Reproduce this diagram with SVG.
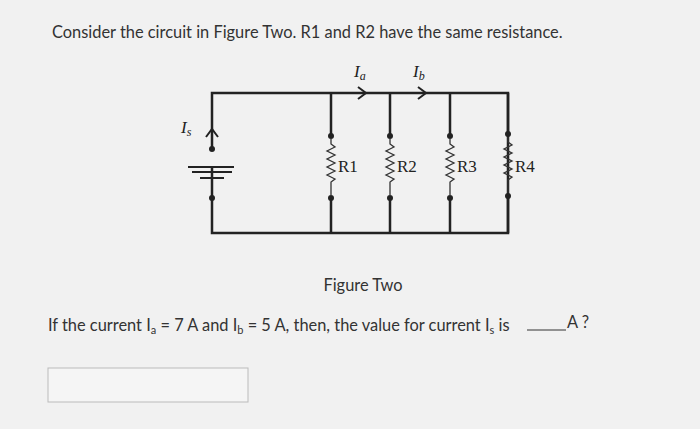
<svg xmlns="http://www.w3.org/2000/svg" width="700" height="429" viewBox="0 0 700 429">
<style>
.t{font-family:"Lato","Liberation Sans",sans-serif;font-size:16.4px;fill:#333}
.w{stroke:#222;stroke-width:2.5;fill:none}
.z{stroke:#333;stroke-width:1.3;fill:none}
.s{font-family:"Liberation Serif",serif;font-size:17px;fill:#222}
.i{font-family:"Liberation Serif",serif;font-size:17px;font-style:italic;fill:#222}
</style>
<rect width="700" height="429" fill="#f1f1f1"/>
<text class="t" x="52" y="38">Consider the circuit in Figure Two. R1 and R2 have the same resistance.</text>
<g id="connectors">
<path class="w" d="M212 198V233H508V93H212V149"/>
<path class="w" d="M331 93V136M331 198V233M390 93V136M390 198V233M450 93V136M450 198V233M508 93V136M508 198V233"/>
<path class="w" d="M212 167V198"/>
<path d="M358 87L366 93L358 99M418 87L426 93L418 99M206 137L212 129L218 137" stroke="#222" stroke-width="2" fill="none"/>
</g>
<g id="battery">
<path d="M188 167H234M192 172H232M200 178H224" stroke="#222" stroke-width="2"/>
<circle cx="212" cy="149" r="3" fill="#222"/><circle cx="212" cy="198" r="3" fill="#222"/>
</g>
<g id="R1"><circle cx="331" cy="136" r="3" fill="#222"/><circle cx="331" cy="198" r="3" fill="#222"/><path class="z" d="M331 139V144l4 3-8 4 8 4-8 4 8 4-8 4 8 4-8 4 8 4-4 3V195"/><text class="s" x="338" y="172">R1</text></g>
<g id="R2"><circle cx="390" cy="136" r="3" fill="#222"/><circle cx="390" cy="198" r="3" fill="#222"/><path class="z" d="M390 139V144l4 3-8 4 8 4-8 4 8 4-8 4 8 4-8 4 8 4-4 3V195"/><text class="s" x="397" y="172">R2</text></g>
<g id="R3"><circle cx="450" cy="136" r="3" fill="#222"/><circle cx="450" cy="198" r="3" fill="#222"/><path class="z" d="M450 139V144l4 3-8 4 8 4-8 4 8 4-8 4 8 4-8 4 8 4-4 3V195"/><text class="s" x="457" y="172">R3</text></g>
<g id="R4"><circle cx="508" cy="134" r="3" fill="#222"/><circle cx="508" cy="196" r="3" fill="#222"/><path class="z" d="M508 137V142l4 3-8 4 8 4-8 4 8 4-8 4 8 4-8 4 8 4-4 3V193"/><text class="s" x="515" y="172">R4</text></g>
<text class="i" x="354" y="77">I<tspan font-size="12" dy="3">a</tspan></text>
<text class="i" x="413" y="77">I<tspan font-size="12" dy="3">b</tspan></text>
<text class="i" x="181" y="133">I<tspan font-size="12" dy="3">s</tspan></text>
<text class="t" x="363" y="291" text-anchor="middle">Figure Two</text>
<text class="t" x="48" y="331">If the current I<tspan font-size="11" dy="3">a</tspan><tspan dy="-3"> = 7 A and I</tspan><tspan font-size="11" dy="3">b</tspan><tspan dy="-3"> = 5 A, then, the value for current I</tspan><tspan font-size="11" dy="3">s</tspan><tspan dy="-3"> is</tspan></text>
<line x1="527" y1="330" x2="566" y2="330" stroke="#333" stroke-width="1"/>
<text class="t" x="567" y="328">A ?</text>
<rect x="48" y="368" width="200" height="34" fill="#f5f5f5" stroke="#bbb"/>
</svg>
